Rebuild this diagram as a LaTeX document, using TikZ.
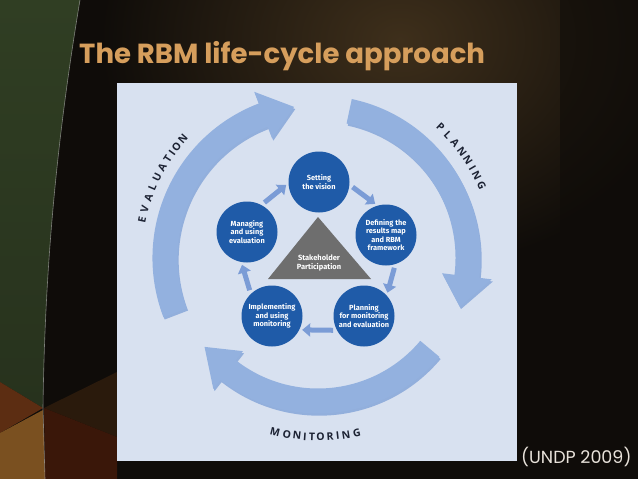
\documentclass[tikz,border=0pt]{standalone}
\usepackage{fontspec}
\setmainfont{Liberation Sans}
\newfontfamily\titlefont{Poppins}
\newfontfamily\circfont{Fira Sans}
\newfontfamily\labfont{Open Sans}
\usetikzlibrary{arrows.meta,calc}

\definecolor{bgdark}{HTML}{0F0C09}
\definecolor{glow}{HTML}{3E2F1B}
\definecolor{stripgreen}{HTML}{303E23}
\definecolor{stripgreenb}{HTML}{27321D}
\definecolor{rust}{HTML}{5C2D12}
\definecolor{ochre}{HTML}{7A5020}
\definecolor{darkrust}{HTML}{3A1709}
\definecolor{brownish}{HTML}{2A1A0C}
\definecolor{panel}{HTML}{D8E1F0}
\definecolor{arcblue}{HTML}{93B1DF}
\definecolor{arcshadow}{HTML}{5A86CC}
\definecolor{circblue}{HTML}{1F5BA8}
\definecolor{smallblue}{HTML}{7B9CD6}
\definecolor{trigray}{HTML}{6E6E6E}
\definecolor{labeldark}{HTML}{1C2233}
\definecolor{titleor}{HTML}{D69E5C}
\definecolor{undp}{HTML}{E8E2DA}

% #1 center name, #2 R, #3 a1, #4 a2, #5 a3, #6 half width, #7 head half width, #8 shift
\newcommand\arrowshape[8]{%
  ([shift={(#3:\Ro)},shift={#8}]#1) arc[start angle=#3, end angle=#4, radius=\Ro]
     -- ([shift={(#4:\Ho)},shift={#8}]#1) -- ([shift={(#5:#2)},shift={#8}]#1) -- ([shift={(#4:\Hi)},shift={#8}]#1)
     -- ([shift={(#4:\Ri)},shift={#8}]#1) arc[start angle=#4, end angle=#3, radius=\Ri] -- cycle
}
\newcommand\bigarrow[7]{%
  \pgfmathsetmacro\Ro{#2+#6}\pgfmathsetmacro\Ri{#2-#6}%
  \pgfmathsetmacro\Ho{#2+#7}\pgfmathsetmacro\Hi{#2-#7}%
  \fill[arcshadow, opacity=.55] \arrowshape{#1}{#2}{#3}{#4}{#5}{#6}{#7}{(1.2,2.2)};
  \fill[arcblue] \arrowshape{#1}{#2}{#3}{#4}{#5}{#6}{#7}{(0,0)};
}

\begin{document}
\begin{tikzpicture}[x=1pt,y=-1pt,
  stage/.style={circle, fill=circblue, minimum size=61pt, inner sep=0pt, outer sep=0pt,
    text=white, align=center, font=\circfont\bfseries\fontsize{7.4}{8.2}\selectfont},
  smallarr/.style={draw=smallblue, line width=5pt, -{Triangle[width=13pt,length=8pt]},
    shorten <=4pt, shorten >=3pt},
  arclabel/.style={text=labeldark, inner sep=0pt, font=\labfont\bfseries\fontsize{10.5}{11}\selectfont}]
\useasboundingbox (0,0) rectangle (638,479);

% background
\fill[bgdark] (0,0) rectangle (638,479);
\shade[inner color=glow, outer color=bgdark] (400,40) ellipse [x radius=300, y radius=230];
\fill[bgdark, opacity=.6] (560,0) rectangle (638,479);
\shade[top color=stripgreen, bottom color=stripgreenb] (0,0) -- (80,0) .. controls (60,120) and (45,250) .. (43,408) -- (0,382) -- cycle;
\fill[rust] (0,382) -- (43,408) -- (0,433) -- cycle;
\fill[ochre] (0,433) -- (43,410) -- (45,479) -- (0,479) -- cycle;
\fill[brownish] (44,408) -- (117,372) -- (117,437) -- cycle;
\fill[darkrust] (44,408) -- (117,437) -- (117,479) -- (45,479) -- cycle;
\draw[white!60!gray, opacity=.55, line width=.6pt] (80,0) .. controls (60,120) and (45,250) .. (43,408) -- (45,479);

% title and source
\node[anchor=base west, inner sep=0pt, text=titleor,
  font=\titlefont\bfseries\fontsize{27.6}{28}\selectfont] (title) at (79,63) {The RBM life-cycle approach};
\node[anchor=base west, inner sep=0pt, text=undp,
  font=\titlefont\fontsize{17.5}{18}\selectfont] (undp) at (521,463) {(UNDP 2009)};

% panel
\fill[panel] (117,83) rectangle (517,461);

% big ring arrows
\coordinate (C) at (318,258);
\coordinate (Cm) at (318,255);
\bigarrow{C}{150}{-78}{7}{19}{12.5}{25}
\bigarrow{C}{153}{159}{249}{261}{12.5}{25}
\bigarrow{Cm}{146}{40}{128}{141}{12.5}{24}

% ring labels
\foreach \ch/\ang [count=\i] in {P/-46.8,L/-43.5,A/-40.0,N/-36.5,N/-33.1,I/-30.3,N/-27.6,G/-24.0}{
  \node[arclabel, rotate={-(\ang+90)}] (pl\i) at ([shift={(\ang:179)}]C) {\ch};
}
\foreach \ch/\ang [count=\i] in {E/192.2,V/195.8,A/199.6,L/203.1,U/206.6,A/210.1,T/213.3,I/215.8,O/218.2,N/221.4}{
  \node[arclabel, rotate={-(\ang+90)}] (ev\i) at ([shift={(\ang:180)}]C) {\ch};
}
\foreach \ch/\ang [count=\i] in {M/103.9,O/100.0,N/96.7,I/94.2,T/91.9,O/89.2,R/86.1,I/83.7,N/81.0,G/77.5}{
  \node[arclabel, rotate={-(\ang+270)}] (mo\i) at ([shift={(\ang:179)}]C) {\ch};
}

% stakeholder triangle
\fill[trigray] (318,217) -- (268,279) -- (371,279) -- cycle;
\node[text=white, align=center, inner sep=0pt,
  font=\circfont\bfseries\fontsize{7.5}{9}\selectfont] (stake) at (319,263) {Stakeholder\\Participation};

% stages
\node[stage] (S) at (319,182) {Setting\\the vision};
\node[stage] (D) at (386,235) {Defining the\\results map\\and RBM\\framework};
\node[stage] (P) at (364,316) {Planning\\for monitoring\\and evaluation};
\node[stage] (I) at (272,316) {Implementing\\and using\\monitoring};
\node[stage] (M) at (247,232) {Managing\\and using\\evaluation};

% small arrows
\draw[smallarr] (M.62) -- (S.182);
\draw[smallarr] (S.355) -- (D.106);
\draw[smallarr] (D.288) -- (P.42);
\draw[smallarr] (P.208) -- (I.333);
\draw[smallarr] (I.134) -- (M.259);
\end{tikzpicture}
\end{document}
